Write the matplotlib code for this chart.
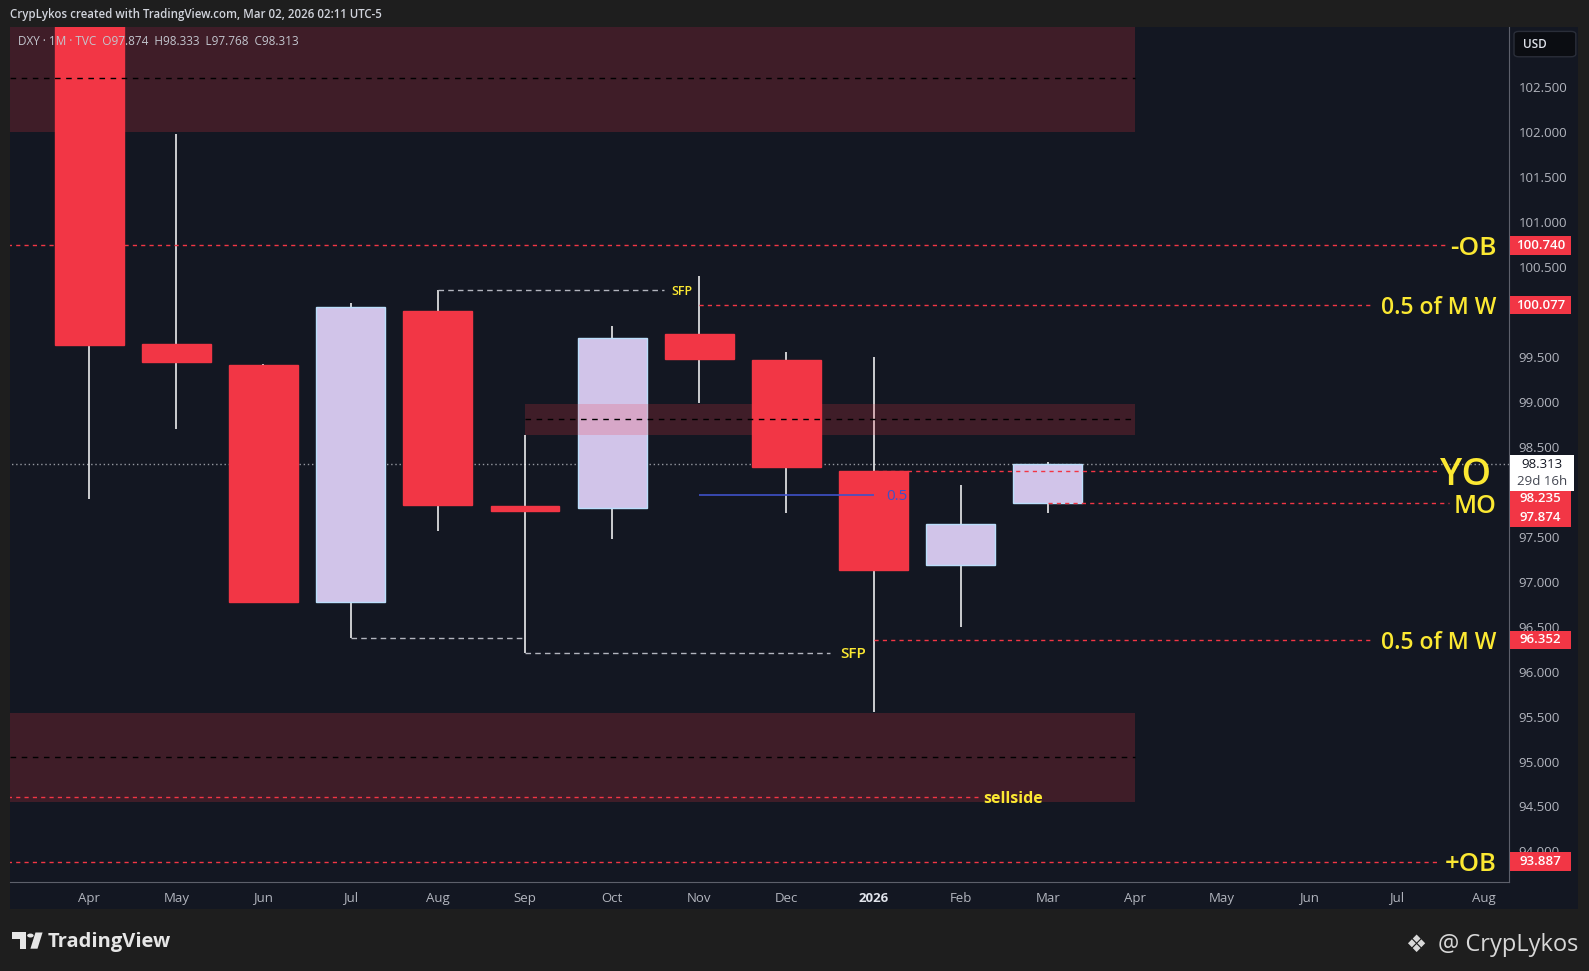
import numpy as np
import matplotlib
matplotlib.use('Agg')
import matplotlib.pyplot as plt
import matplotlib.transforms as mtransforms
from matplotlib.patches import Rectangle, FancyBboxPatch, Polygon, Circle

plt.rcParams['font.family'] = ['Open Sans', 'DejaVu Sans']

# DXY monthly candles, Apr 2025 .. Mar 2026
months = ['Apr', 'May', 'Jun', 'Jul', 'Aug', 'Sep', 'Oct', 'Nov', 'Dec', '2026', 'Feb', 'Mar']
future_months = ['Apr', 'May', 'Jun', 'Jul', 'Aug']
opens  = [104.21, 99.64, 99.41, 96.77, 100.01, 97.84, 97.82, 99.75, 99.47, 98.235, 97.18, 97.874]
highs  = [104.38, 101.98, 99.42, 100.10, 100.245, 98.63, 99.84, 100.40, 99.56, 99.50, 98.07, 98.333]
lows   = [97.92, 98.70, 96.76, 96.37, 97.56, 96.21, 97.47, 98.99, 97.76, 95.555, 96.50, 97.768]
closes = [99.63, 99.44, 96.77, 100.05, 97.855, 97.79, 99.715, 99.48, 98.27, 97.13, 97.64, 98.313]

# supply / demand zones: (low, high, x_start, x_end)
zones = [(102.0, 103.2, -1.5, 12), (98.63, 98.98, 5, 12), (94.55, 95.54, -1.5, 12)]

# key levels: (price, x_start, x_end, label, fontsize)
levels = [
    (100.740, -1.5, 15.6, '-OB', 19),
    (100.077, 7, 14.72, '0.5 of M W', 16.5),
    (98.235, 9, 15.5, 'YO', 27),
    (97.874, 11, 15.6, 'MO', 18),
    (96.352, 9, 14.72, '0.5 of M W', 16.5),
    (93.887, -1.5, 15.5, '+OB', 18.5),
]
sellside = 94.61
fib_half = 97.968
last_price = 98.313
# 98.000 and 100.000 sit under the level boxes on the price scale
yticks = [v for v in np.arange(94.0, 102.51, 0.5) if v not in (98.0, 100.0)]

W, H = 1568, 958
BG = '#131722'
FRAME = '#1e1e1e'
RED = '#f23645'
LAV = '#d1c4e9'
YEL = '#fbe832'
GRAY = '#b2b5be'


def px(x, y):
    return (x / W, 1 - y / H)


fig = plt.figure(figsize=(15.89, 9.71), dpi=100, facecolor=FRAME)
fig.patches.append(Rectangle(px(10, 897), 1547 / W, 870 / H, transform=fig.transFigure,
                             fc=BG, ec='none', zorder=-5))
ax = fig.add_axes([10 / W, 1 - 870 / H, 1479 / W, 843 / H], facecolor=BG)
ax.set_zorder(1)
ax.set_xlim(-0.907, 16.29)
ax.set_ylim(93.662, 103.165)

x = np.arange(len(months))
o = np.array(opens); c = np.array(closes)
up = c >= o
body_lo = np.minimum(o, c)
body_h = np.abs(c - o)
cols = [LAV if u else RED for u in up]
edges = ['#bbdefb' if u else RED for u in up]

ax.vlines(x, lows, highs, colors='white', lw=1.1, zorder=2)
ax.bar(x, body_h, bottom=body_lo, width=0.79, color=cols, edgecolor=edges, linewidth=1, zorder=3)

# zones
for lo, hi, x0, x1 in zones:
    ax.fill_between([x0, x1], lo, hi, color=RED, alpha=0.2, lw=0, zorder=4)
    ax.hlines((lo + hi) / 2, x0, x1, colors='black', linestyles=(0, (4, 4)), lw=1, zorder=4.5)

# current price dotted line
ax.hlines(last_price, -1.5, 17, colors='#9598a1', linestyles=(0, (1, 2)), lw=1, zorder=1)

# key levels
for price, x0, x1, lab, fs in levels:
    ax.hlines(price, x0, x1, colors=RED, linestyles=(0, (3, 3)), lw=1, zorder=5)
    xr = 16.09 if lab == 'YO' else 16.15
    ax.text(xr, price, lab, color=YEL, fontsize=fs, weight='semibold', ha='right',
            va='center_baseline', zorder=6)

ax.hlines(sellside, -1.5, 10.2, colors=RED, linestyles=(0, (3, 3)), lw=1, zorder=5)
ax.text(10.26, sellside, 'sellside', color=YEL, fontsize=11.5, weight='bold', ha='left',
        va='center_baseline', zorder=6)

# SFP markers
ax.hlines(highs[4], 4, 6.6, colors=GRAY, linestyles=(0, (4, 3)), lw=1, zorder=5)
ax.text(6.68, highs[4], 'SFP', color=YEL, fontsize=9, weight='semibold', ha='left',
        va='center_baseline', zorder=6)
ax.hlines(lows[3], 3, 5, colors=GRAY, linestyles=(0, (4, 3)), lw=1, zorder=5)
ax.hlines(lows[5], 5, 8.5, colors=GRAY, linestyles=(0, (4, 3)), lw=1, zorder=5)
ax.text(8.62, lows[5], 'SFP', color=YEL, fontsize=11, weight='semibold', ha='left',
        va='center_baseline', zorder=6)

# fib 0.5
ax.hlines(fib_half, 7, 9, colors='#3f51c8', lw=1.2, zorder=5)
ax.text(9.14, fib_half, '0.5', color='#3f51c8', fontsize=11, ha='left', va='center_baseline', zorder=6)
ax.text(5.15, 103.24, '0.5', color='#3f51c8', fontsize=11, ha='left', va='center', zorder=6, clip_on=True)

# axes styling
ax.set_xticks(range(len(months) + len(future_months)))
ax.set_xticklabels(months + future_months)
ax.tick_params(axis='x', length=0, pad=7, labelsize=9.5, colors=GRAY)
for t in ax.get_xticklabels():
    if t.get_text() == '2026':
        t.set_color('#e0e3eb')
        t.set_fontweight('bold')
ax.yaxis.tick_right()
ax.set_yticks(yticks)
ax.set_yticklabels([f'{v:.3f}' for v in yticks])
ax.tick_params(axis='y', length=0, pad=7, labelsize=9.5, colors=GRAY)
for s in ['top', 'left']:
    ax.spines[s].set_visible(False)
for s in ['bottom', 'right']:
    ax.spines[s].set_color('#5d606b')

# price axis labels
bt = mtransforms.blended_transform_factory(ax.transAxes, ax.transData)
bh = 0.205
stack = {98.235: 97.92, 97.874: 97.715}
for price, *_ in levels:
    yc = stack.get(price, price)
    ax.add_patch(Rectangle((1.0007, yc - bh / 2), 0.0405, bh, transform=bt, fc=RED, ec='none',
                           clip_on=False, zorder=10))
    ax.text(1.021, yc, f'{price:.3f}', transform=bt, color='white', fontsize=9.5, weight='semibold',
            ha='center', va='center', clip_on=False, zorder=11)
ax.add_patch(Rectangle((1.0007, 98.013), 0.0425, 0.397, transform=bt, fc='white', ec='none',
                       clip_on=False, zorder=10))
ax.text(1.022, 98.30, f'{last_price:.3f}', transform=bt, color='#131722', fontsize=9.5,
        ha='center', va='center', clip_on=False, zorder=11)
ax.text(1.022, 98.11, '29d 16h', transform=bt, color='#434651', fontsize=9.5,
        ha='center', va='center', clip_on=False, zorder=11)

# header and legend
fig.text(*px(10, 14), 'CrypLykos created with TradingView.com, Mar 02, 2026 02:11 UTC-5',
         color='#d1d4dc', fontsize=8.3, weight='semibold', va='center')
fig.text(*px(18, 41), 'DXY · 1M · TVC  O97.874  H98.333  L97.768  C98.313',
         color='#c3c6ce', fontsize=8.5, va='center', zorder=20)
fig.patches.append(FancyBboxPatch(px(1494, 56), 61 / W, 25 / H, transform=fig.transFigure,
                                  boxstyle='round,pad=0,rounding_size=0.003', fc='#0b0d12',
                                  ec='#2a2e39', lw=1, zorder=5))
fig.text(*px(1503, 44), 'USD', color='#e0e3eb', fontsize=8.5, weight='semibold', va='center', zorder=6)

# footer
logo = '#e6e6e6'
fig.patches.append(Polygon([px(12, 920), px(26, 920), px(26, 936), px(20, 936), px(20, 926), px(12, 926)],
                           closed=True, transform=fig.transFigure, fc=logo, ec='none'))
fig.patches.append(Circle(px(30, 923), 3.2 / W, transform=fig.transFigure, fc=logo, ec='none'))
fig.patches.append(Polygon([px(35, 920), px(42, 920), px(37, 936), px(30, 936)],
                           closed=True, transform=fig.transFigure, fc=logo, ec='none'))
fig.text(*px(47, 929), 'TradingView', color=logo, fontsize=14.5, weight='bold', va='center')
fig.text(*px(1558, 932), '@ CrypLykos', color='#d8d8d8', fontsize=17, ha='right', va='center')
fig.text(*px(1386, 932), '❖', color='#d8d8d8', fontsize=17, ha='left', va='center',
         family=['DejaVu Sans'])

fig.savefig('out.png', dpi=100, facecolor=FRAME)
